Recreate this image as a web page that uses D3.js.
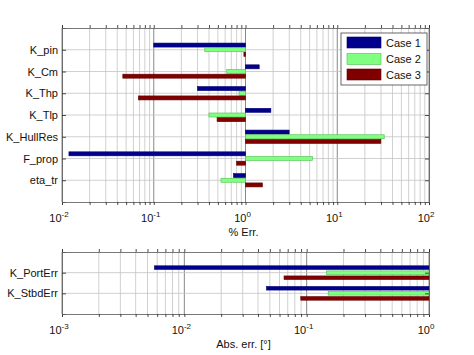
<!DOCTYPE html>
<html><head><meta charset="utf-8">
<script src="https://cdn.jsdelivr.net/npm/d3@7"></script>
<style>
body{margin:0;background:#fff;}
svg{display:block;font-family:"Liberation Sans",Arial,sans-serif;}
</style></head><body>
<svg id="c" width="474" height="355"></svg>
<script>
// ---- data ----
const categoriesTop = ["K_pin","K_Cm","K_Thp","K_Tlp","K_HullRes","F_prop","eta_tr"];
const case1Top = [0.1, 1.41, 0.3, 1.89, 2.99, 0.0119, 0.74];
const case2Top = [0.36, 0.625, 0.85, 0.4, 32.5, 5.37, 0.54];
const case3Top = [0.96, 0.046, 0.068, 0.49, 29.9, 0.8, 1.53];

const categoriesBot = ["K_PortErr","K_StbdErr"];
const case1Bot = [0.0057, 0.047];
const case2Bot = [0.145, 0.15];
const case3Bot = [0.0653, 0.0895];

const seriesNames = ["Case 1","Case 2","Case 3"];
const topDecades = [1e-2, 1e-1, 1e0, 1e1, 1e2];
const topExponents = ["-2","-1","0","1","2"];
const botDecades = [1e-3, 1e-2, 1e-1, 1e0];
const botExponents = ["-3","-2","-1","0"];
const topXLabel = "% Err.";
const botXLabel = "Abs. err. [°]";

const colors = ["#00008c","#80ff80","#800000"];
const strokes = ["#000070","#4fbf4f","#600000"];

const svg = d3.select("#c");

function panel(opts){
  const {x, y, cats, series, decades, exps, xlabel, off, bh, labelY, titleY} = opts;
  const g = svg.append("g");
  const [x0,x1] = x.range();
  const [y1,y0] = y.range();
  const allTicks = x.ticks();
  g.append("g").selectAll("line").data(allTicks).join("line")
    .attr("x1",d=>x(d)).attr("x2",d=>x(d)).attr("y1",y0).attr("y2",y1)
    .attr("stroke",d=>decades.some(v=>Math.abs(v-d)/v<1e-9)?"#6a6a6a":"#c4c4c4")
    .attr("stroke-width",0.8);
  g.append("g").selectAll("line").data(cats).join("line")
    .attr("x1",x0).attr("x2",x1).attr("y1",(d,i)=>y(i+1)).attr("y2",(d,i)=>y(i+1))
    .attr("stroke","#c4c4c4").attr("stroke-width",0.8);
  series.forEach((vals,s)=>{
    g.append("g").selectAll("rect").data(vals).join("rect")
      .attr("x",d=>Math.min(x(d),x(1)))
      .attr("width",d=>Math.abs(x(d)-x(1)))
      .attr("y",(d,i)=>y(i+1+(s-1)*off)-bh/2)
      .attr("height",bh)
      .attr("fill",colors[s]).attr("stroke",strokes[s]).attr("stroke-width",0.6);
  });
  const axB = d3.axisBottom(x).tickValues(allTicks).tickSize(-3).tickFormat("");
  const axT = d3.axisTop(x).tickValues(allTicks).tickSize(-3).tickFormat("");
  const axL = d3.axisLeft(y).tickValues(cats.map((c,i)=>i+1)).tickSize(-4).tickFormat("");
  const axR = d3.axisRight(y).tickValues(cats.map((c,i)=>i+1)).tickSize(-4).tickFormat("");
  [[axB,`translate(0,${y1})`],[axT,`translate(0,${y0})`],[axL,`translate(${x0},0)`],[axR,`translate(${x1},0)`]].forEach(([a,t])=>{
    const ag = g.append("g").attr("transform",t).call(a);
    ag.select(".domain").attr("stroke","#555").attr("stroke-width",0.8);
    ag.selectAll(".tick line").attr("stroke","#222").attr("stroke-width",0.8);
  });
  g.append("g").selectAll("text").data(cats).join("text")
    .attr("x",x0-4).attr("y",(d,i)=>y(i+1)+4)
    .attr("text-anchor","end").attr("font-size",11).attr("fill","#111").text(d=>d);
  const tl = g.append("g").selectAll("text").data(decades).join("text")
    .attr("x",d=>x(d)-3).attr("y",labelY).attr("text-anchor","middle")
    .attr("font-size",11).attr("fill","#111");
  tl.append("tspan").text("10");
  tl.append("tspan").attr("dy",-5).attr("font-size",8).text((d,i)=>exps[i]);
  g.append("text").attr("x",(x0+x1)/2-2).attr("y",titleY).attr("text-anchor","middle")
    .attr("font-size",11).attr("fill","#111").text(xlabel);
}

const xTop = d3.scaleLog().domain([1e-2,1e2]).range([62,429]);
const yTop = d3.scaleLinear().domain([0,8]).range([28,202]);
panel({x:xTop,y:yTop,cats:categoriesTop,series:[case1Top,case2Top,case3Top],
  decades:topDecades,exps:topExponents,xlabel:topXLabel,off:0.215,bh:4,labelY:222,titleY:236});

const xBot = d3.scaleLog().domain([1e-3,1]).range([62,429]);
const yBot = d3.scaleLinear().domain([0,3]).range([252,314]);
panel({x:xBot,y:yBot,cats:categoriesBot,series:[case1Bot,case2Bot,case3Bot],
  decades:botDecades,exps:botExponents,xlabel:botXLabel,off:0.245,bh:3.6,labelY:333.5,titleY:348});

const lg = svg.append("g");
lg.append("rect").attr("x",341).attr("y",33).attr("width",86).attr("height",52)
  .attr("fill","#fff").attr("stroke","#444").attr("stroke-width",0.8);
const rowsY = [42.5,59,74.5];
seriesNames.forEach((n,i)=>{
  lg.append("rect").attr("x",347).attr("y",rowsY[i]-5.5).attr("width",34).attr("height",11)
    .attr("fill",colors[i]).attr("stroke",strokes[i]).attr("stroke-width",0.6);
  lg.append("text").attr("x",386).attr("y",rowsY[i]+4).attr("font-size",11).attr("fill","#111").text(n);
});
</script></body></html>
